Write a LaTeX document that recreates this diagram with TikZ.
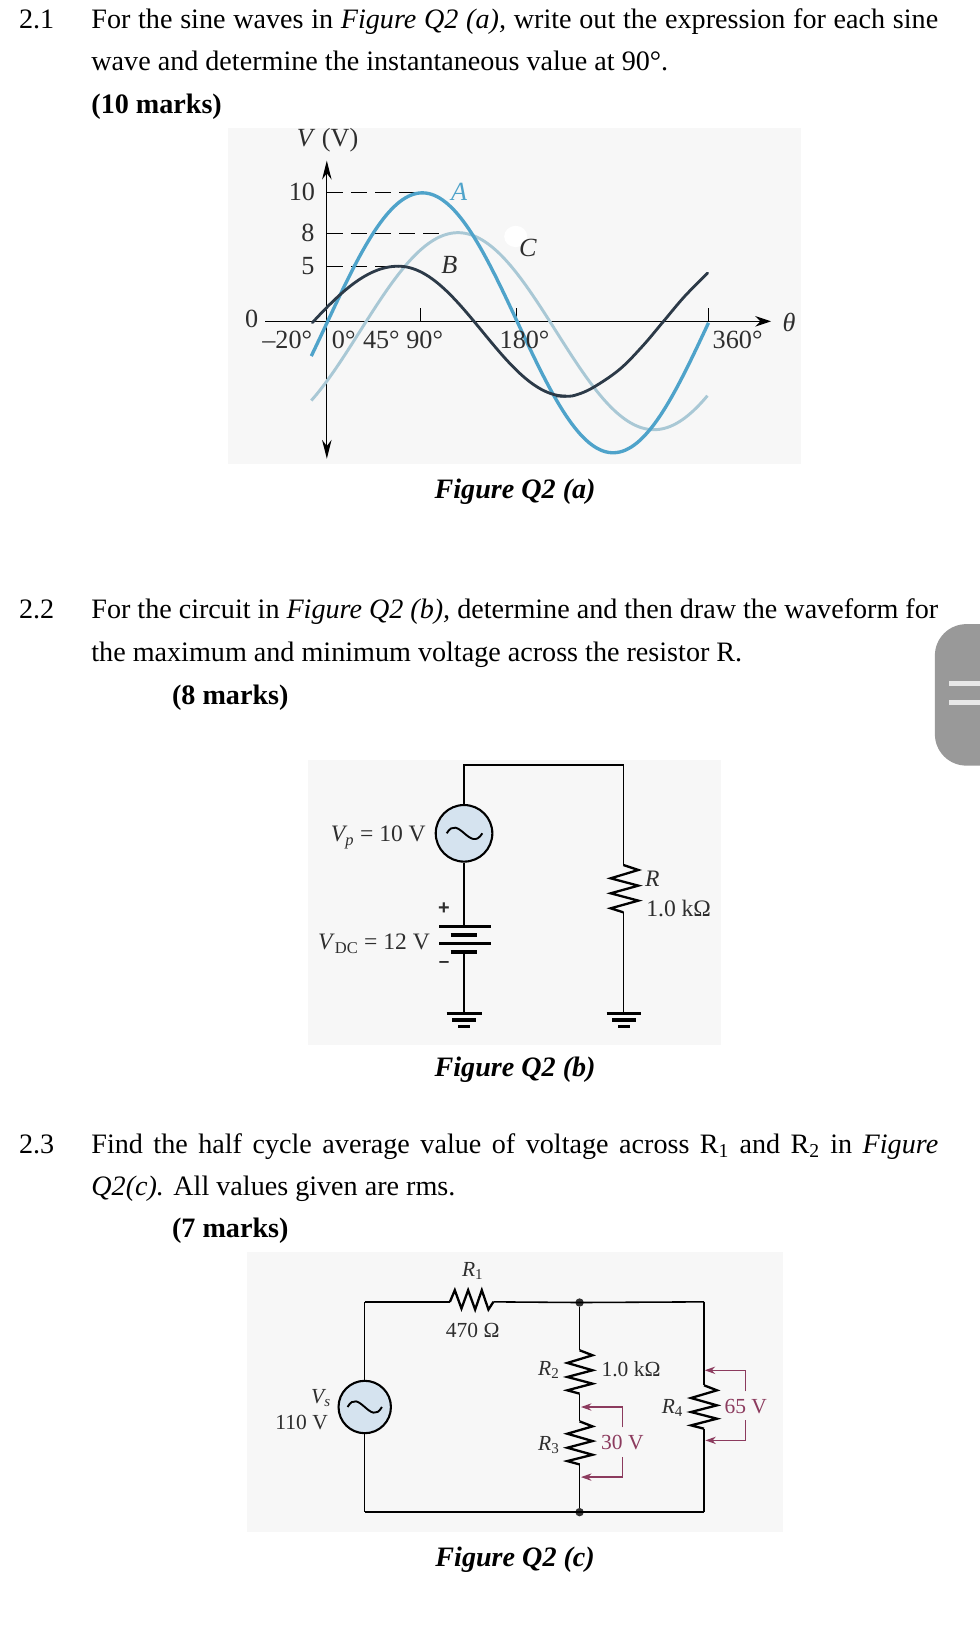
\documentclass[tikz,border=0pt]{standalone}
\usepackage{fontspec}
\setmainfont{Liberation Serif}
\setsansfont{Liberation Sans}
\usetikzlibrary{arrows.meta}
\definecolor{bgfig}{HTML}{F7F7F7}
\definecolor{curveA}{HTML}{4FA3CA}
\definecolor{curveB}{HTML}{2C3A48}
\definecolor{curveC}{HTML}{A9C8D5}
\definecolor{srcfill}{HTML}{D5E3EF}
\definecolor{maroon}{HTML}{8C3B5E}
\definecolor{labelgrey}{HTML}{2E2E2E}
\definecolor{handle}{HTML}{999999}
\definecolor{handlebar}{HTML}{E8E8E8}
\newcommand{\bodyfs}{\fontsize{26.84pt}{30pt}\selectfont}
\tikzset{
  bodyline/.style={anchor=base west,inner sep=0pt,font=\bodyfs},
  caption/.style={anchor=base,inner sep=0pt,font=\bodyfs\bfseries\itshape},
  graphlabel/.style={inner sep=0pt,text=labelgrey,font=\fontsize{25pt}{28pt}\selectfont},
  cirlabel/.style={inner sep=0pt,text=labelgrey,font=\fontsize{22.5pt}{25pt}\selectfont},
  cirlabelc/.style={inner sep=0pt,text=labelgrey,font=\fontsize{20.5pt}{23pt}\selectfont},
  wire/.style={draw=black,line width=1.2pt,line join=miter},
  zig/.style={draw=black,line width=2.2pt,line join=miter},
  plate/.style={draw=black,line width=3pt},
  source/.style={circle,draw=black,line width=2pt,fill=srcfill,inner sep=0pt},
  voltarrow/.style={draw=maroon,line width=1.2pt,-{Stealth[length=10pt,width=7pt]}},
  dot/.style={circle,fill=black!80,inner sep=0pt,minimum size=8pt},
  axisline/.style={draw=black,line width=1.2pt},
  dashline/.style={draw=black,line width=1.1pt,dash pattern=on 15pt off 8pt},
}
\begin{document}
\begin{tikzpicture}[x=1pt,y=-1pt]
\useasboundingbox (0,0) rectangle (935,1567.65);
\fill[white] (0,0) rectangle (935,1567.65);
% body text
\node[bodyline] (n21) at (18,27) {2.1};
\node[bodyline] (t1) at (87,27) {\makebox[808pt][s]{For the sine waves in \textit{Figure Q2 (a),} write out the expression for each sine}};
\node[bodyline] (t2) at (87,67) {wave and determine the instantaneous value at 90°.};
\node[bodyline,font=\bodyfs\bfseries] (t3) at (87,108) {(10 marks)};
\node[caption] (capa) at (491.5,476) {Figure Q2 (a)};
\node[bodyline] (n22) at (18,590) {2.2};
\node[bodyline] (t4) at (87,590) {\makebox[808pt][s]{For the circuit in \textit{Figure Q2 (b),} determine and then draw the waveform for}};
\node[bodyline] (t5) at (87,631) {the maximum and minimum voltage across the resistor R.};
\node[bodyline,font=\bodyfs\bfseries] (t6) at (164,672) {(8 marks)};
\node[caption] (capb) at (491.5,1027) {Figure Q2 (b)};
\node[bodyline] (n23) at (18,1101) {2.3};
\node[bodyline] (t7) at (87,1101) {\makebox[808pt][s]{Find the half cycle average value of voltage across R\textsubscript{1} and R\textsubscript{2} in \textit{Figure}}};
\node[bodyline] (t8) at (87,1141) {\textit{Q2(c).} All values given are rms.};
\node[bodyline,font=\bodyfs\bfseries] (t9) at (164,1181) {(7 marks)};
\node[caption] (capc) at (491.5,1495) {Figure Q2 (c)};
% scroll handle
\fill[handle,rounded corners=30pt] (892,595.5) rectangle (1000,730.5);
\fill[handlebar] (905,650) rectangle (935,654.5);
\fill[handlebar] (905,668) rectangle (935,672.5);
% figure backgrounds
\fill[bgfig] (218,122) rectangle (764,443);
\fill[bgfig] (294,725) rectangle (688,997);
\fill[bgfig] (236,1195) rectangle (747,1462);
% ---------- Figure a
\begin{scope}[shift={(210pt,-114.5pt)},x=0.3663pt,y=-0.3175pt]
\fill[white] (770,350) ellipse (30 and 32);
\coordinate (xs) at (118,605); \coordinate (xe) at (1435,605);
\coordinate (ys) at (278,1018); \coordinate (ye) at (278,122);
\draw[axisline,-{Stealth[length=15pt,width=10pt]}] (xs) -- (xe);
\draw[axisline,{Stealth[length=18pt,width=9pt]}-{Stealth[length=18pt,width=9pt]}] (ys) -- (ye);
\coordinate (d10) at (278,217); \coordinate (d10e) at (522,217);
\coordinate (d8) at (278,340); \coordinate (d8e) at (612,340);
\coordinate (d5) at (278,440); \coordinate (d5e) at (470,440);
\draw[dashline] (d10) -- (d10e);
\draw[dashline] (d8) -- (d8e);
\draw[dashline] (d5) -- (d5e);
\coordinate (t90) at (522,605); \coordinate (t90u) at (522,566);
\coordinate (t180) at (772,605); \coordinate (t180u) at (772,566);
\coordinate (t360) at (1273,605); \coordinate (t360u) at (1273,566);
\draw[axisline] (t90) -- (t90u);
\draw[axisline] (t180) -- (t180u);
\draw[axisline] (t360) -- (t360u);
\end{scope}
% the three sine curves, in page units
\draw[curveC,line width=2.8pt] plot[domain=297:675,samples=140] (\x,{316-94*sin((\x-437)/187*180+90)});
\draw[curveA,line width=3.2pt] plot[domain=297:676,samples=140] (\x,{308-124*sin((\x-312)*0.9890)});
\draw[curveB,line width=2.7pt,line cap=round] plot[domain=298:380,samples=40] (\x,{316-62*sin((\x-380)/179*180+90)});
\draw[curveB,line width=2.7pt,line cap=round] plot[domain=380:540,samples=70] (\x,{316-62*sin((\x-380)/160*180+90)});
\begin{scope}[shift={(210pt,-114.5pt)},x=0.3663pt,y=-0.3175pt]
\draw[curveB,line width=2.7pt,line cap=round] plot[smooth,tension=0.6] coordinates {(877,829)(900,830)(925,827)(970,805)(1040,750)(1100,680)(1155,605)(1210,530)(1270,460)};
\node[graphlabel] (lV) at (280,60) {\textit{V} (V)};
\node[graphlabel] (l10) at (213,217) {10};
\node[graphlabel] (l8) at (229,338) {8};
\node[graphlabel] (l5) at (229,440) {5};
\node[graphlabel] (l0) at (82,597) {0};
\node[graphlabel] (lm20) at (175,660) {–20°};
\node[graphlabel] (l0d) at (322,660) {0°};
\node[graphlabel] (l45) at (420,660) {45°};
\node[graphlabel] (l90d) at (533,660) {90°};
\node[graphlabel] (l180d) at (793,660) {180°};
\node[graphlabel] (l360d) at (1348,660) {360°};
\node[graphlabel] (lth) at (1482,608) {\textit{θ}};
\node[graphlabel,text=curveA] (lA) at (623,217) {\textit{A}};
\node[graphlabel] (lB) at (597,435) {\textit{B}};
\node[graphlabel] (lC) at (802,385) {\textit{C}};
\end{scope}
% ---------- Figure b
\begin{scope}[shift={(286.3pt,-715.6pt)},x=0.318pt,y=-0.318pt]
\node[source,minimum size=54pt] (vp) at (492,250) {};
\draw[line width=1.8pt] (440,250) .. controls (475,190) and (510,310) .. (547,250);
\coordinate (tl) at (492,45); \coordinate (tr) at (970,45);
\coordinate (rt) at (970,345); \coordinate (rb) at (970,487);
\coordinate (b1) at (492,530); \coordinate (b2) at (492,606);
\coordinate (gl) at (492,790); \coordinate (gr) at (970,790);
\draw[wire] (vp.north) -- (tl) -- (tr) -- (rt);
\draw[zig] (rt) -- (1015,360) -- (932,385) -- (1015,407) -- (932,430) -- (1015,452) -- (932,475) -- (rb);
\draw[wire] (rb) -- (gr);
\draw[wire] (vp.south) -- (b1);
\draw[wire] (b2) -- (gl);
\draw[plate] (418,530) -- (572,530);
\draw[plate,line width=4pt] (452,555) -- (532,555);
\draw[plate] (418,581) -- (572,581);
\draw[plate,line width=4pt] (452,606) -- (532,606);
\draw[plate] (440,790) -- (546,790);
\draw[plate] (456,810) -- (528,810);
\draw[plate] (474,830) -- (510,830);
\draw[plate] (920,790) -- (1024,790);
\draw[plate] (936,810) -- (1008,810);
\draw[plate] (954,830) -- (990,830);
\node[cirlabel] (lvp) at (235,262) {\textit{V\textsubscript{p}} = 10 V};
\node[cirlabel,font=\fontsize{19pt}{24pt}\selectfont\bfseries\sffamily] (lplus) at (432,475) {+};
\node[cirlabel] (lvdc) at (222,582) {\textit{V}\textsubscript{DC} = 12 V};
\node[cirlabel,font=\fontsize{18pt}{24pt}\selectfont\bfseries\sffamily] (lminus) at (432,645) {–};
\node[cirlabel] (lr) at (1057,385) {\textit{R}};
\node[cirlabel] (lk) at (1136,475) {1.0 kΩ};
\end{scope}
% ---------- Figure c
\begin{scope}[shift={(229.3pt,-1188pt)},x=0.3344pt,y=-0.3185pt]
\node[source,minimum size=50pt] (vs) at (355,485) {};
\draw[line width=1.8pt] (306,485) .. controls (338,425) and (372,545) .. (404,485);
\coordinate (c1) at (355,170); \coordinate (r1l) at (598,170); \coordinate (r1r) at (722,170);
\node[dot] (jt) at (968,172) {}; \node[dot] (jb) at (968,800) {};
\coordinate (c2) at (1323,170); \coordinate (r4t) at (1323,420); \coordinate (r4b) at (1323,550);
\coordinate (c3) at (1323,800); \coordinate (c4) at (355,800);
\coordinate (r2t) at (968,315); \coordinate (r2b) at (968,445);
\coordinate (r3t) at (968,528); \coordinate (r3b) at (968,657);
\draw[wire,line width=1.5pt] (r1r) -- (jt.center) -- (c2);
\draw[wire] (vs.north) -- (c1);
\draw[wire,line width=1.5pt] (c1) -- (r1l);
\draw[zig] (r1l) -- (612,135) -- (631,190) -- (650,135) -- (670,193) -- (689,135) -- (708,193) -- (r1r);
\draw[wire] (c2) -- (r4t);
\draw[zig] (r4t) -- (1360,435) -- (1286,458) -- (1360,480) -- (1286,500) -- (1360,520) -- (1286,540) -- (r4b);
\draw[wire] (r4b) -- (c3);
\draw[wire,line width=1.5pt] (c3) -- (jb.center) -- (c4);
\draw[wire] (c4) -- (vs.south);
\draw[wire] (jt) -- (r2t);
\draw[zig] (r2t) -- (1005,330) -- (933,353) -- (1005,375) -- (933,395) -- (1005,415) -- (933,435) -- (r2b);
\draw[wire] (r2b) -- (r3t);
\draw[zig] (r3t) -- (1005,543) -- (933,565) -- (1005,587) -- (933,607) -- (1005,628) -- (933,647) -- (r3b);
\draw[wire] (r3b) -- (jb);
\coordinate (a1) at (1090,485); \coordinate (a1e) at (972,485); \coordinate (a1m) at (1090,546);
\coordinate (a2) at (1090,695); \coordinate (a2e) at (972,695); \coordinate (a2m) at (1090,635);
\coordinate (a3) at (1442,375); \coordinate (a3e) at (1325,375); \coordinate (a3m) at (1442,438);
\coordinate (a4) at (1442,585); \coordinate (a4e) at (1327,585); \coordinate (a4m) at (1442,525);
\draw[voltarrow] (a1m) -- (a1) -- (a1e);
\draw[voltarrow] (a2m) -- (a2) -- (a2e);
\draw[voltarrow] (a3m) -- (a3) -- (a3e);
\draw[voltarrow] (a4m) -- (a4) -- (a4e);
\node[cirlabelc] (lr1) at (663,77) {\textit{R}\textsubscript{1}};
\node[cirlabelc] (l470) at (663,255) {470 Ω};
\node[cirlabelc] (lvs) at (230,458) {\textit{V\textsubscript{s}}};
\node[cirlabelc] (l110) at (175,532) {110 V};
\node[cirlabelc] (lr2) at (880,375) {\textit{R}\textsubscript{2}};
\node[cirlabelc] (lk1) at (1115,372) {1.0 kΩ};
\node[cirlabelc] (lr3) at (880,600) {\textit{R}\textsubscript{3}};
\node[cirlabelc,text=maroon] (l30) at (1090,590) {30 V};
\node[cirlabelc] (lr4) at (1233,487) {\textit{R}\textsubscript{4}};
\node[cirlabelc,text=maroon] (l65) at (1442,485) {65 V};
\end{scope}
\end{tikzpicture}
\end{document}
